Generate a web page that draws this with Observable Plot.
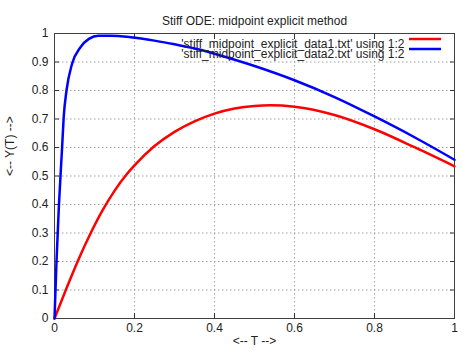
<!DOCTYPE html>
<html>
<head>
<meta charset="utf-8">
<script src="https://cdn.jsdelivr.net/npm/d3@7"></script>
<script src="https://cdn.jsdelivr.net/npm/@observablehq/plot@0.6"></script>
<style>
  html, body { margin: 0; padding: 0; background: #fff; }
  svg { display: block; }
</style>
</head>
<body>
<div id="chart"></div>
<script>
// Series 1 (red): 'stiff_midpoint_explicit_data1.txt'
const t1 = [0, 0.03, 0.06, 0.09, 0.12, 0.15, 0.18, 0.2, 0.25, 0.3, 0.35, 0.4, 0.45, 0.5, 0.54, 0.6, 0.7, 0.8, 0.9, 1.0];
const y1 = [0, 0.106, 0.207, 0.298, 0.379, 0.448, 0.505, 0.537, 0.605, 0.655, 0.692, 0.719, 0.737, 0.746, 0.748, 0.743, 0.714, 0.664, 0.601, 0.534];
// Series 2 (blue): 'stiff_midpoint_explicit_data2.txt'
const t2 = [0, 0.005, 0.011, 0.019, 0.023, 0.03, 0.044, 0.065, 0.086, 0.11, 0.14, 0.19, 0.25, 0.3, 0.365, 0.4, 0.5, 0.6, 0.7, 0.8, 0.9, 1.0];
const y2 = [0, 0.2, 0.396, 0.6, 0.706, 0.8, 0.894, 0.952, 0.981, 0.992, 0.992, 0.987, 0.975, 0.962, 0.943, 0.929, 0.886, 0.836, 0.777, 0.709, 0.636, 0.557];

const xTicks = [0, 0.2, 0.4, 0.6, 0.8, 1];
const xTickLabels = ["0", "0.2", "0.4", "0.6", "0.8", "1"];
const yTicks = [0, 0.1, 0.2, 0.3, 0.4, 0.5, 0.6, 0.7, 0.8, 0.9, 1];
const yTickLabels = ["0", "0.1", "0.2", "0.3", "0.4", "0.5", "0.6", "0.7", "0.8", "0.9", "1"];

const seriesNames = ["'stiff_midpoint_explicit_data1.txt' using 1:2", "'stiff_midpoint_explicit_data2.txt' using 1:2"];
const seriesColors = ["#ff0000", "#0000ff"];
const title = "Stiff ODE: midpoint explicit method";
const xLabel = "<-- T -->";
const yLabel = "<-- Y(T) -->";

const data1 = t1.map((t, i) => ({t, y: y1[i]}));
const data2 = t2.map((t, i) => ({t, y: y2[i]}));

const font = "'Liberation Sans', Arial, sans-serif";
const gridStyle = {stroke: "#a0a0a0", strokeOpacity: 1, strokeDasharray: "1.5,2.5", strokeWidth: 1};
const tickColor = "#333";

const chart = Plot.plot({
  width: 474,
  height: 355,
  marginLeft: 54,
  marginRight: 20,
  marginTop: 33,
  marginBottom: 37,
  style: {fontFamily: font, fontSize: "12px", color: "#222", background: "#fff"},
  x: {domain: [0, 1]},
  y: {domain: [0, 1]},
  marks: [
    Plot.gridX(xTicks.slice(1, -1), gridStyle),
    Plot.gridY(yTicks.slice(1, -1), gridStyle),
    // tick labels
    Plot.axisX({anchor: "bottom", ticks: xTicks, tickFormat: (d, i) => xTickLabels[i], tickSize: 0, tickPadding: 5, label: null, fontSize: 12, fill: "#222"}),
    Plot.axisY({anchor: "left", ticks: yTicks, tickFormat: (d, i) => yTickLabels[i], tickSize: 0, tickPadding: 6, label: null, fontSize: 12, fill: "#222"}),
    // inward tick marks on all four sides
    Plot.axisX({anchor: "bottom", ticks: xTicks, text: null, tickSize: 5, dy: -5, label: null, stroke: tickColor}),
    Plot.axisX({anchor: "top", ticks: xTicks, text: null, tickSize: 5, dy: 5, label: null, stroke: tickColor}),
    Plot.axisY({anchor: "left", ticks: yTicks, text: null, tickSize: 5, dx: 5, label: null, stroke: tickColor}),
    Plot.axisY({anchor: "right", ticks: yTicks, text: null, tickSize: 5, dx: -5, label: null, stroke: tickColor}),
    Plot.frame({stroke: "#404040", strokeWidth: 1}),
    Plot.line(data1, {x: "t", y: "y", stroke: seriesColors[0], strokeWidth: 2.5, curve: "monotone-x"}),
    Plot.line(data2, {x: "t", y: "y", stroke: seriesColors[1], strokeWidth: 2.5, curve: "monotone-x"}),
    // title and axis labels
    Plot.text([title], {frameAnchor: "top", dy: -17, fontSize: 12, fill: "#222"}),
    Plot.text([xLabel], {frameAnchor: "bottom", dy: 26, fontSize: 12, fill: "#222"}),
    Plot.text([yLabel], {frameAnchor: "left", dx: -44, rotate: -90, fontSize: 12, fill: "#222"}),
    // legend text
    Plot.text([seriesNames[0]], {frameAnchor: "top-right", textAnchor: "end", dx: -50, dy: 6, fontSize: 12, fill: "#222"}),
    Plot.text([seriesNames[1]], {frameAnchor: "top-right", textAnchor: "end", dx: -50, dy: 16, fontSize: 12, fill: "#222"})
  ]
});

// legend line samples
const svg = d3.select(chart);
seriesColors.forEach((c, i) => {
  svg.append("line")
    .attr("x1", 409).attr("x2", 441)
    .attr("y1", 39 + i * 10).attr("y2", 39 + i * 10)
    .attr("stroke", c).attr("stroke-width", 2.5);
});

document.getElementById("chart").appendChild(chart);
</script>
</body>
</html>
